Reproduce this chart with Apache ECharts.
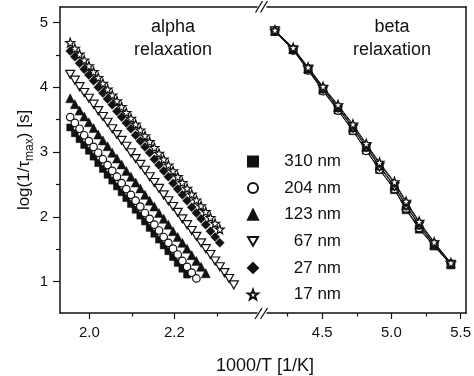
<!DOCTYPE html>
<html>
<head>
<meta charset="utf-8">
<script src="https://cdn.jsdelivr.net/npm/echarts@6/dist/echarts.min.js"></script>
<style>html,body{margin:0;padding:0;background:#fff;}#c{width:474px;height:376px;}</style>
</head>
<body>
<div id="c"></div>
<script>
// ---------- data ----------
const names = ['310 nm', '204 nm', '123 nm', '67 nm', '27 nm', '17 nm'];

// alpha relaxation: 1000/T values (shared), each series uses the first N of them
const alphaX = [1.955, 1.966, 1.977, 1.988, 1.999, 2.010, 2.021, 2.032, 2.043, 2.054, 2.065, 2.076,
  2.087, 2.098, 2.109, 2.120, 2.131, 2.142, 2.153, 2.164, 2.175, 2.186, 2.197, 2.208, 2.219, 2.230,
  2.241, 2.252, 2.263, 2.274, 2.285, 2.296, 2.307, 2.318, 2.329, 2.340];
const alpha310 = [3.38, 3.29, 3.20, 3.11, 3.02, 2.93, 2.83, 2.74, 2.65, 2.56, 2.47, 2.38, 2.29, 2.20, 2.11, 2.02, 1.93, 1.83, 1.74, 1.65, 1.56, 1.47, 1.38, 1.29, 1.20, 1.11];
const alpha204 = [3.54, 3.45, 3.36, 3.26, 3.17, 3.08, 2.99, 2.89, 2.80, 2.71, 2.62, 2.52, 2.43, 2.34, 2.25, 2.16, 2.06, 1.97, 1.88, 1.79, 1.69, 1.60, 1.51, 1.42, 1.32, 1.23, 1.14, 1.05];
const alpha123 = [3.83, 3.74, 3.64, 3.55, 3.46, 3.37, 3.27, 3.18, 3.09, 2.99, 2.90, 2.81, 2.71, 2.62, 2.53, 2.44, 2.34, 2.25, 2.16, 2.06, 1.97, 1.88, 1.78, 1.69, 1.60, 1.51, 1.41, 1.32, 1.23, 1.13];
const alpha67 = [4.20, 4.11, 4.01, 3.92, 3.83, 3.74, 3.64, 3.55, 3.46, 3.36, 3.27, 3.18, 3.09, 2.99, 2.90, 2.81, 2.72, 2.62, 2.53, 2.44, 2.34, 2.25, 2.16, 2.07, 1.97, 1.88, 1.79, 1.70, 1.60, 1.51, 1.42, 1.32, 1.23, 1.14, 1.05, 0.95];
const alpha27 = [4.56, 4.47, 4.37, 4.28, 4.19, 4.10, 4.00, 3.91, 3.82, 3.73, 3.63, 3.54, 3.45, 3.36, 3.26, 3.17, 3.08, 2.99, 2.89, 2.80, 2.71, 2.62, 2.52, 2.43, 2.34, 2.25, 2.15, 2.06, 1.97, 1.88, 1.78, 1.69, 1.60];
const alpha17 = [4.69, 4.60, 4.51, 4.42, 4.33, 4.24, 4.15, 4.06, 3.97, 3.88, 3.79, 3.70, 3.61, 3.52, 3.43, 3.34, 3.25, 3.16, 3.07, 2.98, 2.89, 2.80, 2.71, 2.62, 2.53, 2.44, 2.35, 2.26, 2.17, 2.08, 1.99, 1.90, 1.81];

// beta relaxation
const betaX = [4.158, 4.290, 4.398, 4.506, 4.614, 4.722, 4.818, 4.914, 5.022, 5.106, 5.201, 5.309, 5.430];
const beta310 = [4.87, 4.58, 4.27, 3.95, 3.65, 3.33, 3.03, 2.73, 2.42, 2.11, 1.81, 1.55, 1.26];
const beta204 = [4.86, 4.57, 4.26, 3.94, 3.64, 3.33, 3.02, 2.73, 2.43, 2.13, 1.83, 1.56, 1.27];
const beta123 = [4.87, 4.59, 4.29, 3.98, 3.69, 3.38, 3.08, 2.79, 2.48, 2.18, 1.88, 1.58, 1.28];
const beta67 = [4.87, 4.58, 4.28, 3.97, 3.68, 3.37, 3.07, 2.77, 2.47, 2.17, 1.87, 1.57, 1.27];
const beta27 = [4.88, 4.60, 4.30, 4.00, 3.71, 3.41, 3.11, 2.82, 2.52, 2.22, 1.91, 1.60, 1.29];
const beta17 = [4.88, 4.61, 4.31, 4.01, 3.73, 3.43, 3.13, 2.84, 2.54, 2.24, 1.93, 1.61, 1.29];

// ticks
const xMajorLeft = [2.0, 2.2];
const xMinorLeft = [2.1, 2.3];
const xMajorRight = [4.5, 5.0, 5.5];
const xMinorRight = [4.25, 4.75, 5.25];
const yMajor = [1, 2, 3, 4, 5];
const yMinor = [1.5, 2.5, 3.5, 4.5];

// ---------- styling ----------
const INK = '#111';
const FONT = 'Liberation Sans, Arial, Helvetica, sans-serif';
const STAR = 'path://M0,-10L2.35,-3.24L9.51,-3.09L3.8,1.24L5.88,8.09L0,4L-5.88,8.09L-3.8,1.24L-9.51,-3.09L-2.35,-3.24Z';
const TRI_DOWN = 'path://M0,0L10,0L5,8.66Z';
const symbols = ['rect', 'circle', 'triangle', TRI_DOWN, 'diamond', STAR];
const filled = [true, false, true, false, true, false];
const aSizes = [7, 7.5, 9, [9, 8], 9, 9];
const bSizes = [8, 7.5, 9, [9, 8], 9, 9];
const alphaY = [alpha310, alpha204, alpha123, alpha67, alpha27, alpha17];
const betaY = [beta310, beta204, beta123, beta67, beta27, beta17];

function style(i) {
  return filled[i]
    ? { color: INK, borderColor: INK, borderWidth: 0.5, opacity: 1 }
    : { color: '#fff', borderColor: INK, borderWidth: 1.2, opacity: 1 };
}

const series = [];
names.forEach((n, i) => {
  series.push({
    name: n, type: 'scatter', xAxisIndex: 0, yAxisIndex: 0,
    symbol: symbols[i], symbolSize: aSizes[i],
    itemStyle: style(i),
    data: alphaY[i].map((y, k) => [alphaX[k], y])
  });
});
names.forEach((n, i) => {
  series.push({
    name: n, type: 'line', xAxisIndex: 3, yAxisIndex: 2,
    symbol: symbols[i], symbolSize: bSizes[i], showAllSymbol: true,
    lineStyle: { color: INK, width: 1 },
    itemStyle: style(i),
    data: betaY[i].map((y, k) => [betaX[k], y])
  });
});

const X0 = [1.931, 2.3946], X1 = [4.1007, 5.54], Y = [0.517, 5.239];
const line = { show: true, lineStyle: { color: INK, width: 1.5 } };
const noTick = { show: false }, noLabel = { show: false };
const lbl = (vals) => ({
  show: true, customValues: vals, margin: 12, color: INK, fontSize: 15, fontFamily: FONT,
  formatter: v => Number(v).toFixed(1)
});

const option = {
  animation: false,
  backgroundColor: '#fff',
  grid: [
    { left: 60, right: 217, top: 7, bottom: 63 },
    { left: 267, right: 7, top: 7, bottom: 63 }
  ],
  xAxis: [
    { gridIndex: 0, type: 'value', position: 'bottom', min: X0[0], max: X0[1], axisLine: line,
      axisTick: { show: true, customValues: xMajorLeft, length: 6, lineStyle: { color: INK, width: 1.2 } },
      axisLabel: lbl(xMajorLeft), splitLine: { show: false } },
    { gridIndex: 0, type: 'value', position: 'bottom', min: X0[0], max: X0[1], axisLine: { show: false },
      axisTick: { show: true, customValues: xMinorLeft, length: 3.5, lineStyle: { color: INK, width: 1.2 } },
      axisLabel: noLabel, splitLine: { show: false } },
    { gridIndex: 0, type: 'value', position: 'top', min: X0[0], max: X0[1], axisLine: line,
      axisTick: noTick, axisLabel: noLabel, splitLine: { show: false } },
    { gridIndex: 1, type: 'value', position: 'bottom', min: X1[0], max: X1[1], axisLine: line,
      axisTick: { show: true, customValues: xMajorRight, length: 6, lineStyle: { color: INK, width: 1.2 } },
      axisLabel: lbl(xMajorRight), splitLine: { show: false } },
    { gridIndex: 1, type: 'value', position: 'bottom', min: X1[0], max: X1[1], axisLine: { show: false },
      axisTick: { show: true, customValues: xMinorRight, length: 3.5, lineStyle: { color: INK, width: 1.2 } },
      axisLabel: noLabel, splitLine: { show: false } },
    { gridIndex: 1, type: 'value', position: 'top', min: X1[0], max: X1[1], axisLine: line,
      axisTick: noTick, axisLabel: noLabel, splitLine: { show: false } }
  ],
  yAxis: [
    { gridIndex: 0, type: 'value', position: 'left', min: Y[0], max: Y[1], axisLine: line,
      axisTick: { show: true, customValues: yMajor, length: 7, lineStyle: { color: INK, width: 1.2 } },
      axisLabel: { show: true, customValues: yMajor, margin: 12, color: INK, fontSize: 15, fontFamily: FONT },
      splitLine: { show: false },
      name: '{a|log(1/τ}{b|max}{a|) [s]}', nameLocation: 'middle', nameGap: 20,
      nameTextStyle: { rich: {
        a: { fontSize: 17, fontFamily: FONT, color: INK },
        b: { fontSize: 12, fontFamily: FONT, color: INK, padding: [10, 0, 0, 0] }
      } } },
    { gridIndex: 0, type: 'value', position: 'left', min: Y[0], max: Y[1], axisLine: { show: false },
      axisTick: { show: true, customValues: yMinor, length: 4, lineStyle: { color: INK, width: 1.2 } },
      axisLabel: noLabel, splitLine: { show: false } },
    { gridIndex: 1, type: 'value', position: 'right', min: Y[0], max: Y[1], axisLine: line,
      axisTick: noTick, axisLabel: noLabel, splitLine: { show: false } }
  ],
  legend: {
    orient: 'vertical', left: 242, top: 148, itemWidth: 10, itemHeight: 10, itemGap: 9.6,
    selectedMode: false,
    data: names.map((n, i) => ({ name: n, icon: symbols[i] })),
    formatter: n => '{r|' + n + '}',
    textStyle: { color: INK, fontFamily: FONT, fontSize: 17,
      rich: { r: { width: 78, align: 'right', fontSize: 17, lineHeight: 20, fontFamily: FONT, color: INK } } }
  },
  graphic: [
    { type: 'text', x: 173, y: 16, style: { text: 'alpha\nrelaxation', fill: INK, font: '18px ' + FONT, align: 'center', lineHeight: 23 } },
    { type: 'text', x: 392, y: 16, style: { text: 'beta\nrelaxation', fill: INK, font: '18px ' + FONT, align: 'center', lineHeight: 23 } },
    { type: 'text', x: 265, y: 357, style: { text: '1000/T [1/K]', fill: INK, font: '18px ' + FONT, align: 'center' } },
    // axis break marks
    { type: 'rect', shape: { x: 257, y: 2, width: 10, height: 10 }, style: { fill: '#fff' } },
    { type: 'rect', shape: { x: 257, y: 308, width: 10, height: 11 }, style: { fill: '#fff' } },
    { type: 'line', shape: { x1: 255.5, y1: 12.5, x2: 262.5, y2: 1 }, style: { stroke: INK, lineWidth: 1.3 } },
    { type: 'line', shape: { x1: 260.5, y1: 12.5, x2: 267.5, y2: 1 }, style: { stroke: INK, lineWidth: 1.3 } },
    { type: 'line', shape: { x1: 255, y1: 319, x2: 262, y2: 308 }, style: { stroke: INK, lineWidth: 1.3 } },
    { type: 'line', shape: { x1: 260.5, y1: 319, x2: 267.5, y2: 308 }, style: { stroke: INK, lineWidth: 1.3 } }
  ],
  series: series
};

const chart = echarts.init(document.getElementById('c'), null, { renderer: 'canvas' });
chart.setOption(option);
</script>
</body>
</html>
